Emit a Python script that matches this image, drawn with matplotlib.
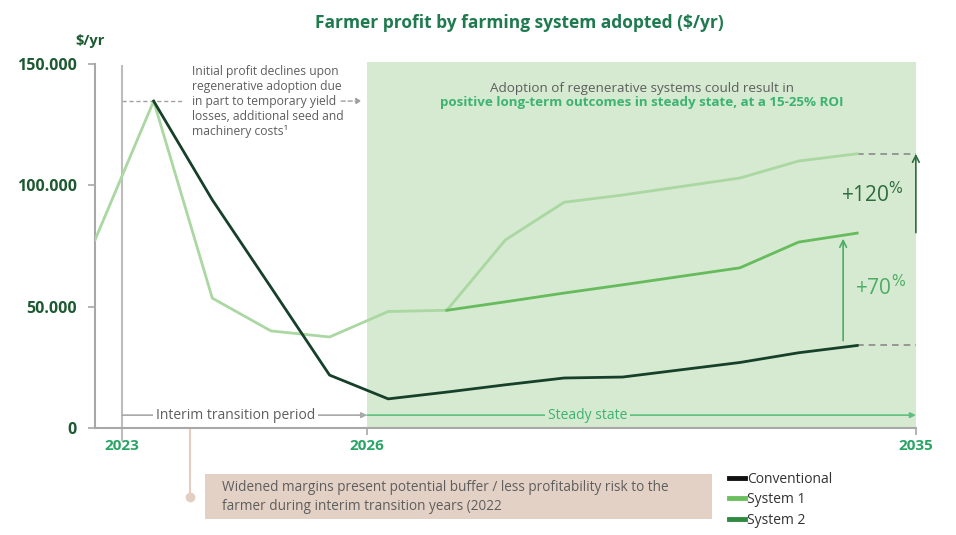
import matplotlib.pyplot as plt
from matplotlib.lines import Line2D
import numpy as np

plt.rcParams['font.family'] = ['Open Sans', 'DejaVu Sans']

# data (k$/yr), evenly spaced points
idx = np.arange(14)
pale = [77.5, 134.7, 53.5, 40, 37.5, 48, 48.5, 77.5, 93, 96, 99.5, 103, 110, 113]
mid = [np.nan] * 6 + [48.5, 52, 55.6, 59, 62.5, 66, 76.6, 80.3]
conv = [np.nan, 134.7, 94, 58, 21.8, 12, 14.8, 17.8, 20.6, 21, 24, 27, 31, 34]
pale = np.array(pale) * 1000
mid = np.array(mid) * 1000
conv = np.array(conv) * 1000

year_pos = [0.46, 4.64, 14.0]
year_labels = ['2023', '2026', '2035']
yticks = [0, 50000, 100000, 150000]
ytick_labels = ['0', '50.000', '100.000', '150.000']
legend_names = ['Conventional', 'System 1', 'System 2']
legend_colors = ['#111111', '#6cbf5f', '#2e8a40']

grey = '#5e5e5e'
axgrey = '#a8a8a8'

fig = plt.figure(figsize=(9.56, 5.35), dpi=100)
ax = fig.add_axes([0.0994, 0.2, 0.8586, 0.685])
ax.set_xlim(0, 14)
ax.set_ylim(0, 151000)

# steady state shaded area
ax.axvspan(year_pos[1], year_pos[2], color='#d5ead0', lw=0, zorder=0)

ax.plot(idx, pale, color='#aad7a2', lw=2, zorder=3)
ax.plot(idx, mid, color='#66bb5c', lw=2, zorder=3)
ax.plot(idx, conv, color='#17402a', lw=2, zorder=4)

# 2023 vertical marker
ax.plot([year_pos[0], year_pos[0]], [-5000, 149000], color='#bdbdbd', lw=1.5,
        clip_on=False, zorder=2)

# spines and ticks
for s in ['top', 'right']:
    ax.spines[s].set_visible(False)
ax.spines['left'].set_color(axgrey)
ax.spines['left'].set_linewidth(1.5)
ax.spines['left'].set_bounds(0, 150000)
ax.spines['bottom'].set_color(axgrey)
ax.spines['bottom'].set_linewidth(1.5)
ax.set_yticks(yticks)
ax.set_yticklabels(ytick_labels, fontsize=11.5, fontweight='bold', color='#1d5a32')
ax.set_xticks(year_pos)
ax.set_xticklabels(year_labels, fontsize=11, fontweight='bold', color='#2aa466')
ax.tick_params(axis='both', colors=axgrey, length=5, width=1.2)
ax.tick_params(axis='y', labelcolor='#1d5a32', pad=8)
ax.tick_params(axis='x', labelcolor='#2aa466', pad=3)

# peak dashed guide
peak = pale[1]
ax.plot([year_pos[0], 1.48], [peak, peak], color='#a0a0a0', lw=1, ls=(0, (3, 2)))
ax.annotate('', xy=(4.6, peak), xytext=(4.15, peak),
            arrowprops=dict(arrowstyle='-|>', color='#a0a0a0', lw=1,
                            ls=(0, (3, 2)), mutation_scale=8))
ax.text(1.65, 149500, 'Initial profit declines upon\nregenerative adoption due\n'
        'in part to temporary yield\nlosses, additional seed and\nmachinery costs\u00b9',
        fontsize=8.7, color=grey, va='top', ha='left', linespacing=1.2)

ax.text(9.33, 140000, 'Adoption of regenerative systems could result in',
        fontsize=9.7, color=grey, ha='center', va='center')
ax.text(9.33, 134000, 'positive long-term outcomes in steady state, at a 15-25% ROI',
        fontsize=9.6, color='#3cb371', fontweight='bold', ha='center', va='center')

# end-point guides and uplift arrows
ax.plot([13, 14], [pale[-1], pale[-1]], color='#8a8a8a', lw=1.2, ls=(0, (4, 3)))
ax.plot([13, 14], [conv[-1], conv[-1]], color='#8a8a8a', lw=1.2, ls=(0, (4, 3)))
ax.annotate('', xy=(14.0, pale[-1]), xytext=(14.0, 80500),
            arrowprops=dict(arrowstyle='->', color='#2e6b3d', lw=1.2,
                            mutation_scale=12, shrinkA=0, shrinkB=0))
ax.annotate('', xy=(12.76, 78000), xytext=(12.76, 36000),
            arrowprops=dict(arrowstyle='->', color='#4cad64', lw=1.2,
                            mutation_scale=12, shrinkA=0, shrinkB=0))
ax.text(13.8, 96000, '+120$^{\\%}$', fontsize=15, color='#2e6b3d',
        ha='right', va='center')
ax.text(13.83, 58000, '+70$^{\\%}$', fontsize=15, color='#4cad64',
        ha='right', va='center')

# period arrows along the bottom
ax.annotate('', xy=(year_pos[1], 5300), xytext=(year_pos[0], 5300),
            arrowprops=dict(arrowstyle='-|>', color='#a8a8a8', lw=1.2,
                            mutation_scale=8, shrinkA=0, shrinkB=0))
ax.text(2.4, 5300, 'Interim transition period', fontsize=10, color=grey,
        ha='center', va='center', bbox=dict(fc='white', ec='none', pad=2))
ax.annotate('', xy=(year_pos[2], 5300), xytext=(year_pos[1], 5300),
            arrowprops=dict(arrowstyle='-|>', color='#5fbf7f', lw=1.2,
                            mutation_scale=8, shrinkA=0, shrinkB=0))
ax.text(8.4, 5300, 'Steady state', fontsize=10, color='#3cb371',
        ha='center', va='center', bbox=dict(fc='#d5ead0', ec='none', pad=2))

# title and unit
fig.text(0.543, 0.957, 'Farmer profit by farming system adopted ($/yr)',
         fontsize=12.5, fontweight='bold', color='#1f7a4f', ha='center', va='center')
fig.text(0.094, 0.923, '$/yr', fontsize=10.5, fontweight='bold', color='#1d5a32',
         ha='center', va='center')

# bottom callout
fig.patches.append(plt.Rectangle((205 / 956, 1 - 519 / 535), 507 / 956, 45 / 535,
                                 transform=fig.transFigure, color='#e3d1c5', lw=0))
fig.text(222 / 956, 1 - 497 / 535,
         'Widened margins present potential buffer / less profitability risk to the\n'
         'farmer during interim transition years (2022',
         fontsize=9.8, color=grey, ha='left', va='center', linespacing=1.3)
fig.add_artist(Line2D([190 / 956, 190 / 956], [1 - 430 / 535, 1 - 497 / 535],
                      transform=fig.transFigure, color='#e3cfc2', lw=1.5))
fig.add_artist(Line2D([190 / 956], [1 - 497 / 535], transform=fig.transFigure,
                      marker='o', ms=6, color='#e3cfc2'))

# legend
handles = [Line2D([], [], color=c, lw=3.5) for c in legend_colors]
fig.legend(handles, legend_names, loc='upper left', bbox_to_anchor=(0.757, 0.128),
           frameon=False, fontsize=10, handlelength=1.1, handletextpad=0.2,
           labelspacing=0.38, labelcolor='#333333', borderaxespad=0)

fig.savefig('out.png', dpi=100)
